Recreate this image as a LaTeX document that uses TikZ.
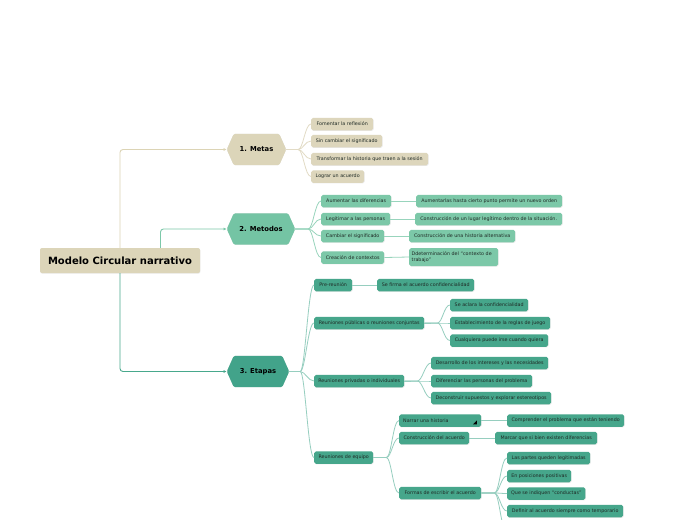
\documentclass[tikz,border=0pt]{standalone}
\usepackage{fontspec}
\setmainfont{DejaVu Sans}
\usetikzlibrary{arrows.meta,backgrounds,shadows}
\definecolor{tanfill}{HTML}{DCD5B9}
\definecolor{tanleaf}{HTML}{DDD6BC}
\definecolor{metodosfill}{HTML}{74C4A4}
\definecolor{metodosleaf}{HTML}{7CC8A8}
\definecolor{etapasfill}{HTML}{42A38A}
\definecolor{etapasleaf}{HTML}{46A68B}
\definecolor{metasline}{HTML}{E2DBC5}
\definecolor{metodosline}{HTML}{98D4BC}
\definecolor{etapasline}{HTML}{96CEBF}
\definecolor{rootmetas}{HTML}{DCD4B5}
\definecolor{rootmetodos}{HTML}{7CC8A9}
\definecolor{rootetapas}{HTML}{48A88C}
\definecolor{leaftext}{HTML}{1F2A25}
\tikzset{
  softshadow/.style={drop shadow={opacity=0.16, shadow xshift=0.4pt, shadow yshift=-0.7pt}},
  leaf/.style={anchor=west, rounded corners=1.8pt, inner xsep=4pt, inner ysep=0pt,
    minimum height=12.5pt, minimum width=#1, text=leaftext,
    font=\fontsize{4.8}{5.8}\selectfont, softshadow},
  mleaf/.style={leaf=#1, fill=tanleaf},
  dleaf/.style={leaf=#1, fill=metodosleaf},
  eleaf/.style={leaf=#1, fill=etapasleaf},
  hexnode/.style={minimum height=31pt, minimum width=#1, inner sep=0pt, text=black,
    font=\bfseries\fontsize{6.8}{8}\selectfont},
  mline/.style={draw=metasline, line width=0.8pt},
  dline/.style={draw=metodosline, line width=0.8pt},
  eline/.style={draw=etapasline, line width=0.8pt},
  rootline/.style={line width=0.9pt, rounded corners=3pt, -{Latex[length=3.2pt,width=3pt]}},
}
\newcommand{\hexfill}[2]{%
  \fill[#2, rounded corners=1.5pt] (#1.west) -- ([xshift=7pt]#1.north west) -- ([xshift=-7pt]#1.north east)
    -- (#1.east) -- ([xshift=-7pt]#1.south east) -- ([xshift=7pt]#1.south west) -- cycle;}
\newcommand{\hexshadow}[1]{%
  \fill[black, opacity=0.12, rounded corners=1.5pt, shift={(0.5pt,-0.8pt)}] (#1.west) -- ([xshift=7pt]#1.north west) -- ([xshift=-7pt]#1.north east)
    -- (#1.east) -- ([xshift=-7pt]#1.south east) -- ([xshift=7pt]#1.south west) -- cycle;}
\begin{document}
\begin{tikzpicture}[x=1pt, y=-1pt]
\useasboundingbox (0,0) rectangle (697,520);

% root
\node[fill=tanfill, rounded corners=2pt, minimum width=160pt, minimum height=25pt, inner sep=0pt,
  font=\bfseries\fontsize{10}{12}\selectfont, text=black, softshadow] (root) at (120,260.5) {Modelo Circular narrativo};

% main branches
\node[hexnode=59pt] (metas) at (256.5,149.5) {1. Metas};
\node[hexnode=68pt] (metodos) at (261,229) {2. Metodos};
\node[hexnode=62pt] (etapas) at (258,371.5) {3. Etapas};
\begin{scope}[on background layer]
  \fill[white] (0,0) rectangle (697,520);
  \hexshadow{metas}\hexshadow{metodos}\hexshadow{etapas}
  \hexfill{metas}{tanfill}
  \hexfill{metodos}{metodosfill}
  \hexfill{etapas}{etapasfill}
\end{scope}

\draw[rootline, rootmetas] (root.north) |- (metas.west);
\draw[rootline, rootmetodos] ([xshift=40.5pt]root.north) |- (metodos.west);
\draw[rootline, rootetapas] (root.south) |- (etapas.west);

% Metas leaves
\node[mleaf=62pt] (m1) at (311,124) {Fomentar la reflexión};
\node[mleaf=71pt] (m2) at (311,141) {Sin cambiar el significado};
\node[mleaf=117pt] (m3) at (311,159) {Transformar la historia que traen a la sesión};
\node[mleaf=53pt] (m4) at (311,176.5) {Lograr un acuerdo};
\foreach \c in {m1,m2,m3,m4}
  \draw[mline] (metas.east) -- ++(12,0) .. controls +(5,0) and +(-6,0) .. (\c.west);

% Metodos leaves
\node[dleaf=70pt] (d1) at (321,201) {Aumentar las diferencias};
\node[dleaf=146pt] (d1a) at (416,201) {Aumentarlas hasta cierto punto permite un nuevo orden};
\node[dleaf=69pt] (d2) at (321,219) {Legitimar a las personas};
\node[dleaf=147pt] (d2a) at (415,219) {Construcción de un lugar legítimo dentro de la situación.};
\node[dleaf=63pt] (d3) at (321,236) {Cambiar el significado};
\node[dleaf=106pt] (d3a) at (409,236) {Construcción de una historia alternativa};
\node[dleaf=63pt] (d4) at (321,257.5) {Creación de contextos};
\node[dleaf=88pt, text width=84pt, inner xsep=2.5pt, align=left, minimum height=18pt] (d4a) at (409,257)
  {Ddeterminación del “contexto de\\trabajo”};
\foreach \c in {d1,d2,d3,d4}
  \draw[dline] (metodos.east) -- ++(13,0) .. controls +(5,0) and +(-6,0) .. (\c.west);
\draw[dline] (d1.east) -- (d1a.west);
\draw[dline] (d2.east) -- (d2a.west);
\draw[dline] (d3.east) -- (d3a.west);
\draw[dline] (d4.east) -- (d4a.west);

% Etapas leaves
\node[eleaf=38pt] (e1) at (314,285) {Pre-reunión};
\node[eleaf=97pt] (e1a) at (377,285) {Se firma el acuerdo confidencialidad};
\node[eleaf=110pt] (e2) at (314,323) {Reuniones públicas o reuniones conjuntas};
\node[eleaf=78pt] (e2a) at (450,305) {Se aclara la confidencialidad};
\node[eleaf=100pt] (e2b) at (450,323) {Establecimiento de la reglas de juego};
\node[eleaf=98pt] (e2c) at (450,340.5) {Cualquiera puede irse cuando quiera};
\node[eleaf=90pt] (e3) at (314,381) {Reuniones privadas o individuales};
\node[eleaf=117pt] (e3a) at (431,363) {Desarrollo de los intereses y las necesidades};
\node[eleaf=101pt] (e3b) at (431,381) {Diferenciar las personas del problema};
\node[eleaf=120pt] (e3c) at (431,398) {Deconstruir supuestos y explorar estereotipos};
\node[eleaf=59pt] (e4) at (314,457.5) {Reuniones de equipo};
\node[eleaf=82pt, text width=74pt, align=left] (e4a) at (399,420.5) {Narrar una historia};
\node[eleaf=117pt] (e4a1) at (507,420.5) {Comprender el problema que están teniendo};
\node[eleaf=70pt] (e4b) at (399,438) {Construcción del acuerdo};
\node[eleaf=102pt] (e4b1) at (495,438) {Marcar que si bien existen diferencias};
\node[eleaf=82pt] (e4c) at (399,493) {Formas de escribir el acuerdo};
\node[eleaf=83pt] (e4c1) at (507,458) {Las partes queden legitimadas};
\node[eleaf=64pt] (e4c2) at (507,476) {En posiciones positivas};
\node[eleaf=78pt] (e4c3) at (507,493.5) {Que se indiquen “conductas”};
\node[eleaf=116pt] (e4c4) at (507,511) {Definir al acuerdo siempre como temporario};
\coordinate (e4c5) at (507,532);

% note icon on "Narrar una historia"
\fill[black] ([xshift=-8.5pt,yshift=2.5pt]e4a.south east) -- ([xshift=-4.5pt,yshift=2.5pt]e4a.south east)
  -- ([xshift=-4.5pt,yshift=6.5pt]e4a.south east) -- cycle;

\foreach \c in {e1,e2,e3,e4}
  \draw[eline] (etapas.east) -- ++(11,0) .. controls +(5,0) and +(-6,0) .. (\c.west);
\draw[eline] (e1.east) -- (e1a.west);
\foreach \c in {e2a,e2b,e2c}
  \draw[eline] (e2.east) -- ++(13,0) .. controls +(5,0) and +(-6,0) .. (\c.west);
\foreach \c in {e3a,e3b,e3c}
  \draw[eline] (e3.east) -- ++(13,0) .. controls +(5,0) and +(-6,0) .. (\c.west);
\foreach \c in {e4a,e4b,e4c}
  \draw[eline] (e4.east) -- ++(13,0) .. controls +(5,0) and +(-6,0) .. (\c.west);
\draw[eline] (e4a.east) -- (e4a1.west);
\draw[eline] (e4b.east) -- (e4b1.west);
\foreach \c in {e4c1,e4c2,e4c3,e4c4}
  \draw[eline] (e4c.east) -- ++(13,0) .. controls +(5,0) and +(-6,0) .. (\c.west);
\draw[eline] (e4c.east) -- ++(13,0) .. controls +(5,0) and +(-6,0) .. (e4c5);
\end{tikzpicture}
\end{document}
